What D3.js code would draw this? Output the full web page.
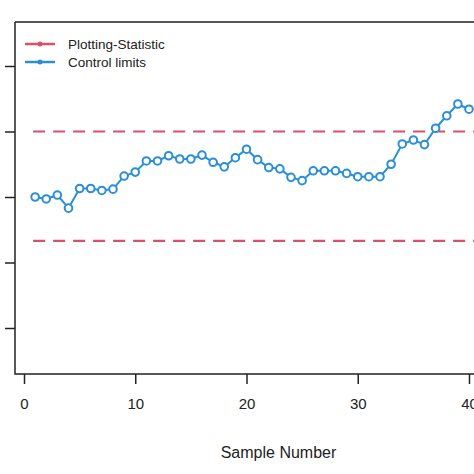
<!DOCTYPE html>
<html><head><meta charset="utf-8">
<script src="https://cdn.jsdelivr.net/npm/d3@7"></script>
<style>body{margin:0;background:#fff}</style></head>
<body><svg id="c" width="474" height="474"></svg>
<script>
const samples = d3.range(1, 41);
const stat = [0.00,-0.03,0.03,-0.17,0.13,0.13,0.10,0.12,0.32,0.38,0.55,0.55,0.63,0.58,0.58,0.64,0.53,0.46,0.60,0.73,0.57,0.45,0.43,0.30,0.25,0.40,0.40,0.40,0.36,0.31,0.31,0.31,0.50,0.81,0.87,0.80,1.05,1.24,1.42,1.34];
const ucl = 1.0, lcl = -0.67;
const xTicks = [0,10,20,30,40];
const yTicks = [-2,-1,0,1,2];
(function(){
const svg = d3.select("#c");
const x = d3.scaleLinear().domain([0,40]).range([24,469]);
const y = d3.scaleLinear().domain([0,1]).range([197,131.5]);
const pTop=22,pBottom=374,pLeft=15;
svg.append("path").attr("d",`M${pLeft},${pTop}H480M${pLeft},${pTop}V${pBottom}H480`).attr("fill","none").attr("stroke","#222").attr("stroke-width",1.5);
const xa = svg.append("g").attr("transform",`translate(0,${pBottom})`).call(d3.axisBottom(x).tickValues(xTicks).tickSize(10).tickPadding(14));
xa.select(".domain").remove();
xa.selectAll("line").attr("stroke","#222").attr("stroke-width",1.5);
xa.selectAll("text").attr("font-family","Liberation Sans, Arial").attr("font-size",15).attr("fill","#222");
const ya = svg.append("g").attr("transform",`translate(${pLeft},0)`).call(d3.axisLeft(y).tickValues(yTicks).tickSize(10).tickFormat(""));
ya.select(".domain").remove();
ya.selectAll("line").attr("stroke","#222").attr("stroke-width",1.5);
svg.append("text").attr("x",x(20)+32).attr("y",458).attr("text-anchor","middle").attr("font-family","Liberation Sans, Arial").attr("font-size",16).attr("fill","#222").text("Sample Number");
[ucl,lcl].forEach(v=>svg.append("line").attr("x1",x(1)-2).attr("x2",474).attr("y1",y(v)).attr("y2",y(v)).attr("stroke","#d9506a").attr("stroke-width",2.2).attr("stroke-dasharray","12,8"));
svg.append("path").datum(stat).attr("d",d3.line().x((d,i)=>x(samples[i])).y(d=>y(d))).attr("fill","none").attr("stroke","#2a8fd6").attr("stroke-width",2);
svg.selectAll("circle.p").data(stat).join("circle").attr("cx",(d,i)=>x(samples[i])).attr("cy",d=>y(d)).attr("r",3.8).attr("fill","#fff").attr("stroke","#2a8fd6").attr("stroke-width",2);
const leg=[["Plotting-Statistic","#d9506a"],["Control limits","#2a8fd6"]];
leg.forEach((l,i)=>{const yy=44+i*18;
svg.append("line").attr("x1",25).attr("x2",55).attr("y1",yy).attr("y2",yy).attr("stroke",l[1]).attr("stroke-width",2.5);
svg.append("circle").attr("cx",40).attr("cy",yy).attr("r",2.5).attr("fill",l[1]);
svg.append("text").attr("x",68).attr("y",yy+5).attr("font-family","Liberation Sans, Arial").attr("font-size",13.5).attr("fill","#222").text(l[0]);});
})();
</script></body></html>
